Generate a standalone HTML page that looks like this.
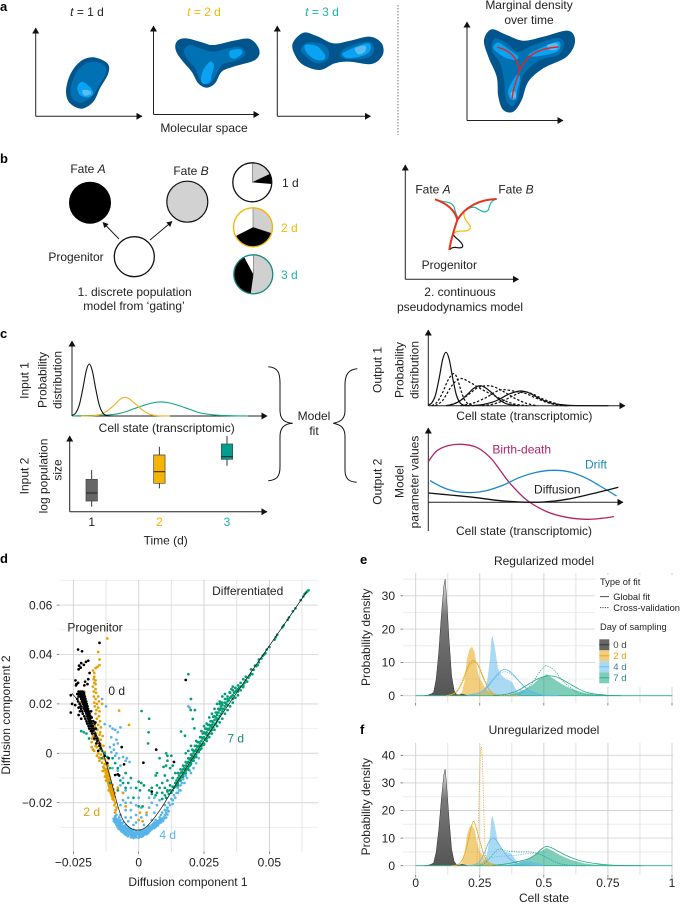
<!DOCTYPE html>
<html lang="en">
<head>
<meta charset="utf-8">
<title>Pseudodynamics figure</title>
<style>
html,body{margin:0;padding:0;background:#fff;width:685px;height:907px;overflow:hidden}
svg{display:block;font-family:"Liberation Sans",sans-serif;font-size:12px;fill:#222}
text{fill:#222}
.mid{text-anchor:middle}
.panel{font-weight:bold;font-size:13px;fill:#000}
.ax{stroke:#222;stroke-width:1;fill:none;marker-end:url(#ah)}
.leg{font-size:9.3px}
</style>
</head>
<body>
<svg id="fig" xmlns="http://www.w3.org/2000/svg" width="685" height="907" viewBox="0 0 685 907">
<defs>
<marker id="ah" markerUnits="userSpaceOnUse" markerWidth="7" markerHeight="7" refX="5.5" refY="3.5" orient="auto"><path d="M0,0 L6,3.5 L0,7 Z" fill="#111"/></marker>
<marker id="ah2" markerUnits="userSpaceOnUse" markerWidth="6" markerHeight="6" refX="5" refY="3" orient="auto"><path d="M0,0 L5.5,3 L0,6 Z" fill="#111"/></marker>
<linearGradient id="g0d" x1="0" y1="0" x2="0" y2="1"><stop offset="0" stop-color="#e8e8e8"/><stop offset=".3" stop-color="#7a7a7a"/><stop offset="1" stop-color="#555"/></linearGradient>
</defs>

<!-- PANEL A -->
<g id="panelA">
<text class="panel" x="0" y="11">a</text>
<text class="mid" x="87" y="16"><tspan font-style="italic">t</tspan> = 1 d</text>
<text class="mid" x="204" y="16" style="fill:#f5b800"><tspan font-style="italic" style="fill:#f5b800">t</tspan> = 2 d</text>
<text class="mid" x="322" y="16" style="fill:#1ab5a5"><tspan font-style="italic" style="fill:#1ab5a5">t</tspan> = 3 d</text>
<text class="mid" x="529" y="9">Marginal density</text>
<text class="mid" x="529" y="24">over time</text>
<text class="mid" x="204" y="132">Molecular space</text>
<path class="ax" d="M35.7,116.3V28"/><path class="ax" d="M35.7,116.3H142"/>
<path class="ax" d="M153.5,114.5V26"/><path class="ax" d="M153.5,114.5H259"/>
<path class="ax" d="M277.3,116.3V26"/><path class="ax" d="M277.3,116.3H370.5"/>
<path class="ax" d="M467,120.5V22"/><path class="ax" d="M467,120.5H563"/>
<path d="M398,5V135" stroke="#888" stroke-width="1.2" stroke-dasharray="1.5 1.5" fill="none"/>
<g id="blobs"></g>
<path d="M497.3,47.3C510,50 518.3,58.3 519.3,71.7M558.3,47C536.7,48.3 523.3,56.7 518.3,75C515,83.3 512.7,91.7 512,99" fill="none" stroke="#e1261c" stroke-width="1.4"/>
</g>

<!-- PANEL B -->
<g id="panelB">
<text class="panel" x="0" y="163">b</text>
<text class="mid" x="88" y="173">Fate <tspan font-style="italic">A</tspan></text>
<text class="mid" x="191" y="175">Fate <tspan font-style="italic">B</tspan></text>
<circle cx="90" cy="202.7" r="21" fill="#000"/>
<circle cx="187.3" cy="201.7" r="20.5" fill="#d2d2d2" stroke="#111" stroke-width="1.2"/>
<circle cx="134.3" cy="256.7" r="20" fill="#fff" stroke="#111" stroke-width="1.3"/>
<path d="M119,239L103,222.5" stroke="#111" stroke-width=".9" fill="none" marker-end="url(#ah2)"/>
<path d="M150,240L172,221.5" stroke="#111" stroke-width=".9" fill="none" marker-end="url(#ah2)"/>
<text class="mid" x="76" y="261">Progenitor</text>
<text class="mid" x="134.7" y="296">1. discrete population</text>
<text class="mid" x="134" y="310">model from ‘gating’</text>
<g id="pies"></g>
<text x="282" y="187">1 d</text>
<text x="281" y="232" style="fill:#f5b800">2 d</text>
<text x="281" y="279" style="fill:#1ab5a5">3 d</text>
<path class="ax" d="M405.3,279.3V165"/><path class="ax" d="M405.3,279.3H518.5"/>
<text class="mid" x="433" y="193.5">Fate <tspan font-style="italic">A</tspan></text>
<text class="mid" x="516" y="193.5">Fate <tspan font-style="italic">B</tspan></text>
<text class="mid" x="449.3" y="269">Progenitor</text>
<text class="mid" x="460" y="296">2. continuous</text>
<text class="mid" x="460" y="311">pseudodynamics model</text>
<path transform="translate(380,150) scale(.3333)" d="M165,147C190,160 210,150 222,170C228,195 232,200 235,205M350,147C335,150 330,160 326,178C315,195 300,180 285,172C270,170 262,178 252,185" fill="none" stroke="#19b5a5" stroke-width="3.6"/>
<path transform="translate(380,150) scale(.3333)" d="M252,185C250,200 255,210 265,220C278,235 270,245 240,243C225,245 222,250 220,255" fill="none" stroke="#f5b800" stroke-width="3.6"/>
<path transform="translate(380,150) scale(.3333)" d="M220,255C225,262 235,268 245,280C255,295 240,295 225,292C215,292 210,297 210,300" fill="none" stroke="#111" stroke-width="3.6"/>
<path transform="translate(380,150) scale(.3333)" d="M165,148C200,160 225,180 232,210M350,147C300,148 255,170 232,210C222,240 212,270 208,300" fill="none" stroke="#e8321c" stroke-width="6"/>
</g>

<!-- PANEL C -->
<g id="panelC">
<text class="panel" x="0" y="338">c</text>
<path class="ax" d="M72,416V341"/><path class="ax" d="M72,416H267"/>
<g id="input1"></g>
<text class="mid" x="166.7" y="432">Cell state (transcriptomic)</text>
<text class="mid" transform="translate(28.3,380.5) rotate(-90)">Input 1</text>
<text class="mid" transform="translate(46.7,380) rotate(-90)">Probability</text>
<text class="mid" transform="translate(61.7,380) rotate(-90)">distribution</text>
<text class="mid" transform="translate(28.3,476) rotate(-90)">Input 2</text>
<text class="mid" transform="translate(47.7,476) rotate(-90)">log population</text>
<text class="mid" transform="translate(61.7,470) rotate(-90)">size</text>
<path class="ax" d="M69.7,511.7V436"/><path class="ax" d="M69.7,511.7H267"/>
<g id="boxes"></g>
<text class="mid" x="165.7" y="544.5">Time (d)</text>
<path d="M268.3,366.7C278.3,367.3 280,373.3 280,383.3L280,410C280,418.3 283.3,422.7 292.7,423.3C283.3,424 280,428.3 280,436.7L280,466.7C280,476.7 276.7,480 268.3,480.7" fill="none" stroke="#111" stroke-width="1"/>
<text class="mid" x="314" y="420">Model</text>
<text class="mid" x="314" y="435">fit</text>
<path d="M357.3,368.7C348.3,369.3 345,375 345,385L345,410C345,418.3 341.7,421.7 333.3,423.3C341.7,425 345,428.3 345,436.7L345,470C345,478.3 348.3,481.7 356.7,482.3" fill="none" stroke="#111" stroke-width="1"/>
<path class="ax" d="M428.3,405.7V330"/><path class="ax" d="M428.3,405.7H625"/>
<g id="output1"></g>
<text class="mid" x="524.3" y="420">Cell state (transcriptomic)</text>
<text class="mid" transform="translate(381.7,370) rotate(-90)">Output 1</text>
<text class="mid" transform="translate(403.3,370) rotate(-90)">Probability</text>
<text class="mid" transform="translate(418.3,370) rotate(-90)">distribution</text>
<text class="mid" transform="translate(381.7,481.7) rotate(-90)">Output 2</text>
<text class="mid" transform="translate(403.3,481.7) rotate(-90)">Model</text>
<text class="mid" transform="translate(418.3,482) rotate(-90)">parameter values</text>
<path class="ax" d="M428.3,531V428"/><path class="ax" d="M428.3,502.3H623"/>
<g id="output2"></g>
<text class="mid" x="521.7" y="453.5" style="fill:#b0246a">Birth-death</text>
<text class="mid" x="596" y="468.5" style="fill:#1b87c8">Drift</text>
<text class="mid" x="557.3" y="493.5">Diffusion</text>
<text class="mid" x="524" y="535">Cell state (transcriptomic)</text>
</g>

<!-- PANEL D -->
<g id="panelD">
<text class="panel" x="0" y="563">d</text>
<g id="gridD"></g>
<g id="pointsD"></g>
<text class="mid" x="247.7" y="595">Differentiated</text>
<text class="mid" x="95" y="631.3">Progenitor</text>
<text class="mid" x="116.7" y="695">0 d</text>
<text class="mid" x="235.7" y="742.7" style="fill:#1a8a74">7 d</text>
<text class="mid" x="91.7" y="816" style="fill:#e69f00">2 d</text>
<text class="mid" x="167.7" y="839" style="fill:#56b4e9">4 d</text>
<text class="mid" x="188" y="886">Diffusion component 1</text>
<text class="mid" transform="translate(10,715) rotate(-90)">Diffusion component 2</text>
</g>

<!-- PANELS E F -->
<g id="panelE">
<text class="panel" x="360" y="564">e</text>
<text class="mid" x="544" y="565">Regularized model</text>
<g id="plotE"></g>
<text class="mid" transform="translate(370,637.3) rotate(-90)">Probability density</text>
<g>
<rect x="595" y="575" width="90" height="112" fill="#fff"/>
<text class="leg" x="600" y="585">Type of fit</text>
<path d="M600,596.7h9" stroke="#222" stroke-width=".8"/>
<text class="leg" x="613.3" y="600">Global fit</text>
<path d="M600,607.7h9" stroke="#222" stroke-width=".8" stroke-dasharray="1.2 1.2"/>
<text class="leg" x="613.3" y="611">Cross-validation</text>
<text class="leg" x="600" y="630">Day of sampling</text>
<rect x="599.3" y="639.3" width="10" height="11" fill="#666"/><path d="M599.3,644.8h10" stroke="#333"/>
<rect x="599.3" y="650.3" width="10" height="11" fill="#f0cd7f"/><path d="M599.3,655.8h10" stroke="#e6a92a"/>
<rect x="599.3" y="661.3" width="10" height="11" fill="#a9d9f4"/><path d="M599.3,666.8h10" stroke="#70bfec"/>
<rect x="599.3" y="672.3" width="10" height="11" fill="#7fcdb8"/><path d="M599.3,677.8h10" stroke="#2fae8c"/>
<text class="leg" x="613.3" y="648" style="fill:#444;font-size:9.6px">0 d</text>
<text class="leg" x="613.3" y="659" style="fill:#e69f00;font-size:9.6px">2 d</text>
<text class="leg" x="613.3" y="670" style="fill:#3f7fa5;font-size:9.6px">4 d</text>
<text class="leg" x="613.3" y="681" style="fill:#2a8a78;font-size:9.6px">7 d</text>
</g>
</g>
<g id="panelF">
<text class="panel" x="360" y="734">f</text>
<text class="mid" x="544" y="734">Unregularized model</text>
<g id="plotF"></g>
<text class="mid" transform="translate(370,806.7) rotate(-90)">Probability density</text>
<text class="mid" x="544" y="902">Cell state</text>
</g>
</svg>

<script>
/* ---------- Panel c data ---------- */
const input0dX=[0,2,4,6,8,9.7,11.4,13.4,15.4,17.4,19.4,22];
const input0dY=[.01,.055,.2,.51,.87,1,.87,.51,.2,.055,.01,0];
const input2dX=[5,12,16,20,24,27,29.8,32.6,36,40,44,48,55];
const input2dY=[0,.005,.03,.105,.22,.32,.36,.32,.22,.105,.03,.005,0];
const input3dX=[0,20,28,34,40,45,49.8,55,60,66,72,80,90,99];
const input3dY=[0,.02,.06,.13,.2,.25,.27,.25,.2,.13,.06,.02,.003,0];
const boxDays=[1,2,3];
const boxLow=[5,23.4,46];
const boxQ1=[10.7,28.4,52.4];
const boxMedian=[18.7,40,55];
const boxQ3=[32.4,56.7,67.7];
const boxHigh=[41.7,65,75.7];
const boxColors=['#666','#f5b400','#009e8e'];
const boxLabelColors=['#222','#f5b400','#1ab5a5'];
const out1Solid1X=[0,2,4,6,8,9.8,11.6,13.6,15.6,17.6,19.6,23];
const out1Solid1Y=[.01,.055,.2,.51,.87,1,.87,.51,.2,.055,.01,0];
const out1Solid2X=[10,14,18,22,25,28.7,32,36,40,44,50];
const out1Solid2Y=[0,.03,.1,.22,.32,.375,.33,.22,.1,.03,0];
const out1Solid3X=[24,30,36,40,45,51,56,62,68,74,80,100];
const out1Solid3Y=[0,.02,.07,.13,.22,.275,.24,.13,.05,.02,.005,0];
const out1Dash1X=[2,5,8,11,14,16,18,20,22,25];
const out1Dash1Y=[0,.07,.25,.48,.6,.52,.3,.12,.04,0];
const out1Dash2X=[4,8,12,15,18.5,24,30,36,42,48,55];
const out1Dash2Y=[0,.1,.32,.45,.51,.42,.3,.2,.1,.03,0];
const out1Dash3X=[10,16,22,27,31,36,42,48,54,60];
const out1Dash3Y=[0,.06,.2,.33,.37,.36,.26,.14,.05,0];
const out1Dash4X=[18,25,32,38,42,48,54,60,66,72,78];
const out1Dash4Y=[0,.05,.15,.27,.3,.27,.23,.14,.06,.01,0];
const out1Dash5X=[30,36,42,48,53,58,64,70,74,78];
const out1Dash5Y=[0,.03,.1,.2,.26,.22,.12,.05,.01,0];
const birthDeathX=[0,4.4,10.5,17.5,25.4,32.5,37.7,43,51.8,62.3,72.8,83.3,91.2,97.7];
const birthDeathY=[40.7,51.3,56.7,58,55,45,32.3,19,2.3,-9.3,-15,-17,-16,-14.3];
const driftX=[.9,7.9,14.9,22.8,30.7,39.5,48.2,57,65.8,74.6,83.3,90.4,99.1];
const driftY=[21.7,14.7,10.7,9.7,11.7,17.3,25,30,32,30.3,24,16.3,6.3];
const diffusionX=[0,11.4,23.7,36,48.2,60.5,72.8,85,100];
const diffusionY=[9.3,7.3,5,2,.3,.3,3,8,15];

/* ---------- Panel d data (values in units of 0.001) ---------- */
const scatterXTicks=[-25,0,25,50];
const scatterXLabels=['\u22120.025','0','0.025','0.05'];
const scatterXMinor=[-12.5,12.5,37.5,62.5];
const scatterYTicks=[60,40,20,0,-20];
const scatterYLabels=['0.06','0.04','0.02','0','\u22120.02'];
const scatterYMinor=[70,50,30,10,-10,-30];
const trajectoryX=[-25.6,-22.4,-18.6,-14.8,-11,-7.1,-4,-.5,3.1,8.2,14.5,23.5,36.2,47.7,64.3];
const trajectoryY=[24.3,20.2,12.8,4,-9.4,-24.3,-29.6,-31.1,-29.6,-22.9,-12.1,2.7,22.5,40,65.4];
const day0Points=[[-23.2,42],[-21.7,41.3],[-15,44.7],[-22,36.5],[-22.8,35.5],[-21,35.8],[-22.2,34.7],[-19.3,37.5],[-20.2,37],[-23,34],[-18.8,32.5],[-19.3,30],[-24.2,29.5],[-23.8,28],[-23.2,28.5],[-24,27.5],[-20.5,29],[-20.8,27.5],[-19.6,28],[-26,23.5],[-25.5,20],[-26,16.5],[-23,25],[-23.5,22],[-24.3,19.5],[-23,18.5],[-22.5,17],[-23,15.5],[-22,14],[-6.5,2.5],[6.7,1.5],[1.8,-3.8],[-5.6,-4.5],[13.5,-3.5],[18,29.7],[-9,-8.8],[-8,-8.5],[-7.5,-9],[5,-15.5],[-12,-4],[-11.5,-2],[-13,-1],
[-22.2,25],[-21.5,25],[-22.5,24.5],[-21,24.5],[-22.8,24],[-21.8,24],[-20.9,24],[-22,23.5],[-21.2,23.5],[-22.4,23],[-21.5,23],[-20.6,23],[-21.8,22.5],[-20.9,22.5],[-22,22],[-21.2,22],[-20.4,22],[-21.4,21.5],[-20.7,21.5],[-21.7,21],[-20.9,21],[-20.1,21],[-21.2,20.5],[-20.4,20.5],[-21.3,20],[-20.6,20],[-19.9,20],[-20.9,19.5],[-20.1,19.5],[-21,19],[-20.3,19],[-19.6,19],[-20.5,18.5],[-19.8,18.5],[-20.8,18],[-20,18],[-19.4,18],[-20.2,17.5],[-19.6,17.5],[-20.4,17],[-19.8,17],[-19.1,17],[-19.9,16.5],[-19.2,16.5],[-20,16],[-19.4,16],[-18.8,16],[-19.7,15],[-19,15],[-18.5,15],[-19.3,14],[-18.6,14],[-19,13],[-18.3,13],[-18.8,12],[-18,12],[-18.3,11],[-17.6,11],[-18,10],[-17.2,10],[-17.5,9],[-17.8,8],[-16.8,8],[-16.5,7],[-17,6],[-16,6],[-15.8,5],[-16.2,4],[-15,4],[-15,3],[-14.5,2],[-15.5,1],
[-23.5,24],[-23,23],[-23.2,21],[-22.6,20],[-22.2,19],[-22,18],[-21.6,17],[-21.4,16],[-20.8,15],[-20.4,14],[-20,13],[-19.7,12],[-19.2,11],[-18.9,10],[-18.3,9],[-16.6,12.5],[-18.2,17],[-18,14.5],[-17.4,13],[-16.9,12],[-16.4,10]];
const day2Points=[[-12,46.5],[-15.5,41],[-15,38],[-15,35.7],[-15.8,35],[-16.5,34.5],[-17.5,33.5],[-17,32.5],[-17,31],[-17.2,30],[-16.5,29.5],[-17,28.5],[-16.5,28],[-17.5,27],[-16.5,26],[-17.2,25],[-16.3,24.5],[-15.5,23],[-17.2,23],[-16.5,22],[-15.2,21],[-17,20.5],[-16,20],[-14,20],[-16.8,19],[-15.5,18.5],[-16.2,17.5],[-15,17],[-16.5,16],[-15.2,15],[-16,14],[-14.8,13],[-16.5,12.5],[-15.5,11.5],[-16.8,11],[-14.5,10.5],[-17,9.5],[-15.8,9.5],[-14.7,8.5],[-16.3,8],[-15,7.5],[-17.5,7],[-13.8,7],[-15.5,6],[-16.8,5.5],[-14.5,5.5],[-18,4.5],[-16,4.2],[-14.5,3.5],[-13.5,3],[-18,2.5],[-16,2.5],[-15,1.5],[-14,1],[-17,1],[-13,.5],[-15.5,0],[-14.5,-.5],[-16,-1],[-13.5,-1.5],[-14.5,-2],[-13,-2.5],[-15,-3],[-12.5,-3.5],[-14,-3.8],[-13,-4.5],[-11.8,-5],[-13.5,-5.5],
[-13.2,-6],[-12.2,-6.3],[-13,-6.8],[-11.8,-7],[-12.6,-7.5],[-11.6,-7.8],[-12.6,-8.2],[-11.5,-8.6],[-12.2,-9],[-11.2,-9.3],[-12.2,-9.8],[-11.2,-10.2],[-11.9,-10.6],[-10.9,-11],[-11.9,-11.4],[-11,-11.7],[-11.6,-12.2],[-10.6,-12.5],[-11.5,-13],[-10.6,-13.3],[-11.2,-13.7],[-10.3,-14],[-11.1,-14.4],[-10.2,-14.8],[-10.8,-15.2],[-10,-15.5],[-10.7,-16],[-9.9,-16.3],[-10.4,-16.8],[-9.7,-17],[-10.2,-17.5],[-9.5,-17.8],
[-10,-18.5],[-9.5,-19],[-9.3,-21],[-8.5,-22],[-9,-20],[-8.8,-23],[-9,-24],[-7.5,17.3],[-3.7,11.5],[-22,25],[-20.8,25],[-22,20.5],[.5,-24],[3,-24],[0,-27],[1.5,-27.5],[-5,-21.5],[-8,-14],[-6,-16],
[-17.8,6],[-16.5,3],[-17.5,1.5],[-15.2,-1.8],[-13.8,-7.2],[-12.9,-9.4],[-12.5,-11],[-10,-12.8],[-9.6,-14.6],[-9.2,-16],[-11.5,-15]];
const day4Points=[[-14,22],[-12.5,19],[-13,11.8],[-11,11],[-10,10],[-9,9.5],[-8,8.5],[-7,10.5],[-10.5,6.5],[-8.5,5.5],[-9.5,3.5],[-8,4],[-11,2.5],[-9.5,1.5],[-10.5,.5],[-8.5,0],[-9,-1],[-7.5,-2],[-6,-1.5],[-4.5,-2],[-5,-3],[-3.5,-3.5],[-7,-5],[-10,-6],[-8,-7],[-5,-8],[-6,-10],[-7,-13],[-8,-14],[19,19],[19.5,18.5],
[-3,-34],[-2,-34.3],[-1,-34],[0,-34.2],[1,-33.8],[-5,-33],[-4,-33.2],[-3,-33],[-2,-33.2],[-1,-33],[0,-33.1],[1,-33],[2,-33],[3,-32.8],[-6,-32],[-5,-32.2],[-4,-32],[-3,-32],[-2,-32],[-1,-32],[0,-32],[1,-32],[2,-32],[3,-32],[4,-31.7],[-7,-31],[-6,-31],[-5,-31],[-4,-31],[-3,-31],[-2,-31],[-1,-31.5],[.5,-31.3],[2,-31],[3,-31],[4,-31],[5,-30.7],[-8,-30],[-7,-30],[-6,-30],[-5,-30],[-4,-30],[3.5,-30],[4.5,-30],[5.5,-30],[6.5,-29.7],[-8.5,-29],[-7.5,-29],[-6.5,-29],[-5,-29],[5,-29],[6,-29],[7,-29],[-9,-28],[-8,-28],[-7,-28],[-6,-28],[6,-28],[7,-28],[8,-28],[-9,-27],[-8,-27],[-7,-27],[6.5,-27],[8,-27],[9,-27],[-9,-26],[-7.5,-26],[8,-26],[9.5,-26],[-8.5,-25],[-7,-25],[8.5,-25],[10,-25],[9,-24],[10.5,-24],
[-4.2,-33.6],[-2.6,-33.7],[-1.4,-33.5],[.3,-33.7],[1.6,-33.5],[-5.4,-32.6],[-4.6,-32.4],[-3.4,-32.6],[-2.4,-32.5],[-1.6,-32.6],[-.4,-32.5],[.6,-32.4],[1.4,-32.6],[2.6,-32.5],[3.6,-32.3],[-6.6,-31.6],[-5.4,-31.5],[-4.6,-31.6],[-3.4,-31.4],[-2.6,-31.5],[1.2,-31.6],[2.4,-31.5],[3.6,-31.4],[4.4,-31.3],[-7.6,-30.6],[-6.4,-30.5],[-5.6,-30.4],[-4.4,-30.6],[-3.5,-30.4],[3,-30.6],[4,-30.4],[5,-30.4],[6,-30.3],[-8.2,-29.5],[-7,-29.6],[-6,-29.4],[-5.1,-29.5],[4,-29.5],[5.4,-29.6],[6.5,-29.3],[7.4,-29.2],[-8.6,-28.5],[-7.4,-28.6],[-6.5,-28.4],[5.6,-28.5],[6.6,-28.5],[7.6,-28.4],[8.5,-28],[-9.5,-27.5],[-8.6,-27.5],[-7.5,-27.4],[7.2,-27.5],[8.4,-27.4],[9.3,-27.4],[-9.6,-26.5],[-8.5,-26.6],[8.6,-26.5],[9.8,-26.4],[10.5,-26],[-9,-25.5],[11,-24.8],[11.5,-23.5],[10,-23],[11,-23],
[10,-21],[11,-22],[11.5,-20],[12,-21],[12.5,-18.5],[13,-19],[13.5,-17],[14,-18],[14.5,-16],[15,-14],[15.5,-15],[16,-13],[16.5,-12],[17,-10.5],[18,-9],[18.5,-10],[19.5,-7],[20,-8],[17.5,-12],[21,-6],[22,-4],[23,-2],[15,-16],[16,-15],[13,-20.5],
[-6,-16],[-5,-15],[-3,-14],[-4,-18],[-6,-19],[-5,-20],[-3,-20],[-7,-21],[-5,-23],[-3,-23],[-1,-21],[0,-18],[1,-22],[-1,-25],[-3,-26],[-5,-26],[1,-26],[3,-25],[4,-22],[5,-20],[6,-24],[7,-21],[5,-27],[-1,-28],[2,-29],[-2,-29],[-4,-27.5],[4,-18],[6,-18],[8,-19],[9,-16],[2,-13]];
const day7Points=[[19,32],[20,22],[1.1,17.1],[4,14],[3.8,8.5],[3.6,4],[16.2,8.8],[17.7,7.1],[21.3,10.1],[20.7,13.9],[19.9,17.5],[21.5,17.5],[-22,9],[-20,8],[-19,6],[-21,8.5],
[10.5,0],[11,-1],[8,-2],[11,-3],[12.5,-1],[13,-5],[10.5,-5],[9.5,-5.5],[12,-6],[7,-8],[6.5,-9],[10,-9],[14,-8],[13,-10],[11,-11],[9,-12],[7,-13],[5,-14],[8,-14],[10,-14],[12,-13],[11,-15],[9,-16],[7,-16],[6.5,-17],[5,-16.5],[4,-15],[2,-13],[1,-12],[0,-11.5],[-1,-14],[.5,-15],[1.5,-21.5],[0,-21.5],[-3,-10],[-5,-8],[-6,-12],[-5,-14],[-7,-11],[-8,-6],[-9,-4],[-10,-2],[-11,-6],[-8,-15],[-2,-18],[-4,-12],[-14,1],[-13,0],[-12,-1.5],[-14,-2],[-11,-12],
[9,-18.5],[10,-17],[10.5,-18],[11,-15.5],[11.5,-16.5],[12,-15],[12.5,-16],[13,-13.5],[13,-15],[13.5,-14],[14,-12],[14,-13.5],[14.5,-11],[14.5,-13],[15,-12],[15,-10],[15.5,-11],[15.5,-9],[16,-10],[16,-8],[16.5,-9.5],[16.5,-7.5],[17,-8.5],[17,-6.5],[17.5,-8],[17.5,-6],[18,-7],[18,-5],[18.5,-6.5],[18.5,-4],[19,-5.5],[19,-3.5],[19.5,-5],[19.5,-2.5],[20,-4],[20,-2],[20.5,-3],[20.5,-1],[21,-2],[21,0],[21.5,-1.5],[21.5,1],[22,-.5],[22,1.5],[22.5,.5],[22.5,2.5],[23,1],[23,3],[23.5,1.5],[23.5,4],[24,3],[24,5],[24.5,3.5],[24.5,6],[25,4],[25,6.5],[25.5,5.5],[25.5,8],[26,6],[26,8.5],[26.5,7],[26.5,9.5],[27,8],[27,10],[27.5,9],[27.5,11],[28,9.5],[28,11.5],[28.5,10.5],[28.5,12.5],[29,11.5],[29,13.5],[29.5,12],[29.5,14.5],[30,13],[30,15.5],[30.5,14],[30.5,16.5],[31,15],[31,17.5],[31.5,16],[31.5,19],[32,17],[32,19.5],[32.5,18],[33,19],[33,20.5],[33.5,20],[34,21],[34,22],[34.5,21.5],[35,22.5],[35.5,23],[36,23.5],[36.5,24.5],[37,25],[37.5,25.5],[38,26],[38.5,26.5],[39,27],
[40,27.5],[40.5,28.5],[41,29.5],[42,30.6],[42.5,31.5],[43,32.2],[44,33.8],[45,35.3],[46,36.8],[47,38.4],[48,40],[48.5,40.5],[50,43],[52,46],[52.5,47],[53,48],[55,51],[55.5,51.8],[57,54],[57.5,55],[59,57.5],[60,58.7],[62,62],[63,63.5],[63.5,64.5],[64,65],[64.5,65.5],[65,66],
[32,23],[30,20],[28,16],[27,14.5],[29,18],[33,24],[35.5,26],[36,27],[24,9],[22,5],[20,3],[18,0],[25,11],[26,12],[31,21],[19,1],[34.8,24.7],[31,20],
[15,-13],[15,-8],[16,-11],[16,-6.5],[17,-9.5],[17,-5],[18,-8],[18,-3.5],[19,-6.5],[19,-2],[20,-4.5],[20,-.5],[21,-3],[21,1],[22,-1.5],[22,3],[23,.5],[23,4.5],[24,2],[24,6.5],[25,3.5],[25,8.5],[26,5],[26,10],[27,6.5],[27,11.5],[28,8],[28,13],[29,9.5],[29,15],[30,11],[30,16.5],[31,12.5],[31,18],[32,14],[32,20.5],[33,16],[33,22],[34,17.5],[34,23],[35,19],[35,24.5],[36,20.5],[36,25.5],[37,22.5],[37,26.5],[38,23.5],[38,27.5],[39,25.5],[39,28.5],[40,26.8],[40,30],[24.5,8],[25.5,10],[26.5,11.5],[27.5,13],[28.5,14.8],[29.5,16.5],[30.5,18],[31.5,20.5],[23.5,6.5],[22.5,4.5],[21.5,3],[20.5,1.5],[26,7.5],[28,10.5],[30,14],[32,18],[34,19.5],[36,22],[38,25],[41,31],[43,34],[44.5,35.5],[46,38],[41.5,29],[43.5,32],[45.5,35.7],[47.5,39.5],[49,42]];

/* ---------- Panels e/f data ---------- */
const densityXTicks=[0,.25,.5,.75,1];
const densityXLabels=['0','0.25','0.5','0.75','1'];
const densityXMinor=[.125,.375,.625,.875];
const eYTicks=[0,10,20,30];
const eYMinor=[5,15,25,35];
const fYTicks=[0,10,20,30,40];
const fYMinor=[5,15,25,35];
const hist0dX=[.03,.05,.06,.07,.08,.09,.1,.11,.115,.12,.13,.14,.15,.16,.17,.18,.19,.2];
const hist0dY=[0,.2,.5,1,5,13,24,33,35,30,17,6,1.5,.3,.2,.5,.3,.1];
const hist2dX=[.13,.15,.17,.18,.19,.2,.21,.22,.23,.24,.25,.26,.27,.28,.3,.32,.35];
const hist2dY=[0,.2,.5,1,4,11,14,14.7,13,8,5,4,2.5,1.5,.8,.3,0];
const hist4dX=[.2,.24,.26,.27,.28,.29,.295,.3,.31,.32,.33,.35,.37,.38,.39,.4,.41,.43,.45,.47,.5,.55];
const hist4dY=[0,.3,1,2,5,11,17,18,14,8.5,6.5,5,4.5,3.5,2,1,2,1.5,1.5,1,.3,0];
const hist7dX=[.35,.4,.43,.46,.48,.5,.51,.53,.55,.57,.6,.63,.66,.7,.72,.75,.8];
const hist7dY=[0,1,2,3.5,5,5.8,6.5,5.5,4.5,3.5,2.3,1.5,.8,.4,.5,.2,.05];
const eGlobal2dX=[.12,.14,.16,.18,.2,.21,.225,.24,.25,.27,.29,.31,.34,.4];
const eGlobal2dY=[.05,.4,1.3,4,8,9.6,10.6,9.6,8,4.2,1.4,.4,.05,0];
const eCross2dX=[.12,.14,.16,.18,.2,.21,.228,.24,.25,.27,.29,.31,.34,.4];
const eCross2dY=[.05,.3,1.1,3.5,7.4,9,10.2,9.7,8.4,4.6,1.6,.5,.08,0];
const eGlobal4dX=[.2,.24,.26,.28,.3,.32,.34,.36,.38,.4,.42,.44,.46,.5,.55];
const eGlobal4dY=[.1,.5,1.2,2.6,4.6,6.5,7.8,7.6,6.4,4.7,3,1.6,.8,.1,0];
const eCross4dX=[.2,.24,.26,.28,.3,.32,.34,.36,.38,.4,.42,.44,.46,.5,.56];
const eCross4dY=[.2,.8,1.6,3,4.7,6.2,7.1,7,6,4.6,3.1,1.9,1,.2,0];
const eGlobal7dX=[.3,.35,.38,.4,.43,.46,.49,.52,.55,.58,.6,.63,.66,.7,.75,.8];
const eGlobal7dY=[.05,.4,1,1.6,3,4.4,5.5,6,5.6,4.5,3.6,2.3,1.2,.5,.1,0];
const eCross7dX=[.34,.38,.4,.42,.44,.46,.48,.5,.51,.53,.55,.57,.6,.63,.66,.7,.75];
const eCross7dY=[0,.2,.5,1.2,2.5,4.4,6.8,8.6,9,8.3,6.8,4.7,2.7,1,.4,.1,0];
const fGlobal2dX=[.14,.16,.18,.2,.21,.225,.24,.25,.27,.29,.32];
const fGlobal2dY=[.05,.3,1.8,7,11.3,16,12.5,9,3,.6,.05];
const fCross2dX=[.22,.235,.24,.245,.25,.255,.26,.265,.27,.275,.285,.3];
const fCross2dY=[0,.4,4,18,35,43,38,22,8,2,.1,0];
const fGlobal4dX=[.2,.23,.25,.27,.285,.3,.315,.33,.35,.37,.4,.44,.5];
const fGlobal4dY=[0,.4,1.5,5,8.5,10,9.2,7,4.2,2.2,.8,.2,0];
const fCross4dX=[.2,.24,.27,.29,.32,.36,.4,.44,.47,.5,.53,.56,.6,.65];
const fCross4dY=[0,.5,1.8,2.8,3.3,3.6,3.9,4.4,4.5,3.6,2,.8,.1,0];
const fGlobal7dX=[.3,.35,.4,.44,.47,.49,.51,.53,.56,.6,.65,.7,.75,.8,.88];
const fGlobal7dY=[.1,.6,1.5,2.5,4.2,6,7,6.5,5,3.2,1.6,.8,.3,.1,0];
const fCross7dX=[.24,.27,.3,.32,.335,.36,.4,.44,.47,.5,.53,.56,.6,.66];
const fCross7dY=[0,1,4,5.8,6,5.3,5,5,4.6,3.4,2,.8,.2,0];

/* ---------- Shared colours ---------- */
const NS='http://www.w3.org/2000/svg';
const C0='#333',C2='#e6a92a',C4='#62b8ea',C7='#1fa982';

function addPath(parent,d,fill,stroke,width,name,dash,opacity){
  const el=document.createElementNS(NS,'path');
  el.setAttribute('d',d);
  el.setAttribute('fill',fill);
  el.setAttribute('stroke',stroke);
  el.setAttribute('stroke-width',width);
  if(dash)el.setAttribute('stroke-dasharray',dash);
  if(opacity)el.setAttribute('opacity',opacity);
  
  
  parent.appendChild(el);
  return el;
}
function addLabel(parent,x,y,str,anchor,color,name){
  const el=document.createElementNS(NS,'text');
  el.setAttribute('x',x);
  el.setAttribute('y',y);
  el.setAttribute('text-anchor',anchor);
  if(color)el.style.fill=color;
  el.textContent=str;
  
  
  parent.appendChild(el);
}
function smooth(pts){
  let d='M'+pts[0][0].toFixed(2)+','+pts[0][1].toFixed(2);
  for(let i=0;i<pts.length-1;i++){
    const a=pts[Math.max(i-1,0)],b=pts[i],c=pts[i+1],e=pts[Math.min(i+2,pts.length-1)];
    d+='C'+(b[0]+(c[0]-a[0])/6).toFixed(2)+','+(b[1]+(c[1]-a[1])/6).toFixed(2)+' '+(c[0]-(e[0]-b[0])/6).toFixed(2)+','+(c[1]-(e[1]-b[1])/6).toFixed(2)+' '+c[0].toFixed(2)+','+c[1].toFixed(2);
  }
  return d;
}
function curve(xs,ys,sx,sy){return smooth(xs.map((v,i)=>[sx(v),sy(ys[i])]));}
function area(xs,ys,sx,sy){
  let d='M'+sx(xs[0]).toFixed(2)+','+sy(0).toFixed(2);
  xs.forEach((v,i)=>{d+='L'+sx(v).toFixed(2)+','+sy(ys[i]).toFixed(2);});
  return d+'L'+sx(xs[xs.length-1]).toFixed(2)+','+sy(0).toFixed(2)+'Z';
}
function blob(raw,ox,fill,name){
  const n=raw.length,P=raw.map(p=>[ox+p[0]/3,p[1]/3]);
  let d='M'+P[0][0].toFixed(1)+','+P[0][1].toFixed(1);
  for(let i=0;i<n;i++){
    const a=P[(i-1+n)%n],b=P[i],c=P[(i+1)%n],e=P[(i+2)%n];
    d+='C'+(b[0]+(c[0]-a[0])/6).toFixed(1)+','+(b[1]+(c[1]-a[1])/6).toFixed(1)+' '+(c[0]-(e[0]-b[0])/6).toFixed(1)+','+(c[1]-(e[1]-b[1])/6).toFixed(1)+' '+c[0].toFixed(1)+','+c[1].toFixed(1);
  }
  addPath(document.getElementById('blobs'),d+'Z',fill,'none',0,name);
}

/* ---------- Panel a blobs ---------- */
const DK='#01558c',MD='#0071b3',BR='#0aa2f2',LT='#5cbcf2';
blob([[280,172],[322,190],[325,220],[300,265],[280,305],[245,326],[210,310],[198,275],[210,225],[240,185]],0,DK,'t1-density-outer');
blob([[280,185],[312,195],[318,220],[295,260],[275,290],[245,308],[220,298],[212,270],[225,225],[250,195]],0,MD,'t1-density-mid');
blob([[250,246],[270,262],[280,282],[262,292],[240,285],[232,265],[238,250]],0,BR,'t1-density-high');
blob([[250,270],[270,272],[272,282],[255,287],[247,278]],0,LT,'t1-density-peak');
blob([[555,115],[600,125],[640,135],[700,122],[750,117],[778,150],[765,180],[700,200],[665,215],[645,250],[620,263],[595,250],[575,215],[545,180],[527,150],[530,125]],0,DK,'t2-density-outer');
blob([[570,135],[600,145],[640,155],[690,143],[725,143],[735,165],[705,183],[665,195],[640,240],[620,253],[600,240],[585,205],[560,175],[552,150]],0,MD,'t2-density-mid');
blob([[695,150],[720,148],[727,160],[705,176],[690,170],[688,157]],0,BR,'t2-density-high-right');
blob([[630,185],[642,195],[635,225],[630,245],[612,252],[603,240],[610,210]],0,BR,'t2-density-high-bottom');
blob([[100,98],[140,108],[190,130],[240,122],[300,110],[335,130],[338,165],[305,192],[240,185],[195,190],[150,210],[100,195],[75,165],[68,130]],270,DK,'t3-density-outer');
blob([[110,128],[150,130],[175,150],[172,180],[140,190],[110,172],[92,150]],270,MD,'t3-density-mid-left');
blob([[105,135],[140,138],[165,165],[160,180],[135,178],[110,158]],270,BR,'t3-density-high-left');
blob([[225,145],[290,125],[312,140],[300,170],[250,178],[212,170]],270,MD,'t3-density-mid-right');
blob([[225,155],[290,130],[303,145],[285,165],[235,175],[218,165]],270,BR,'t3-density-high-right');
blob([[255,145],[285,137],[285,155],[265,163]],270,LT,'t3-density-peak');
blob([[665,88],[710,105],[760,122],[820,110],[895,92],[915,125],[890,170],[820,205],[775,245],[755,300],[730,335],[700,330],[685,290],[680,230],[655,170],[642,120]],270,DK,'marginal-density-outer');
blob([[675,115],[710,130],[745,155],[790,135],[860,115],[882,130],[865,165],[810,180],[760,225],[745,290],[728,318],[708,300],[702,240],[690,190],[665,150]],270,MD,'marginal-density-mid');
blob([[685,128],[720,150],[745,170],[735,180],[700,170],[670,145]],270,BR,'marginal-high-left');
blob([[780,160],[860,125],[870,145],[850,160],[790,170]],270,BR,'marginal-high-right');
blob([[740,225],[750,235],[740,280],[738,298],[722,298],[715,270]],270,BR,'marginal-high-bottom');
blob([[832,135],[860,130],[862,147],[840,150]],270,LT,'marginal-peak-right');
blob([[722,278],[735,275],[738,292],[725,295]],270,LT,'marginal-peak-bottom');

/* ---------- Panel b pies ---------- */
const pieCentersX=[252.3,253,253.3];
const pieCentersY=[182.3,227.3,274.3];
const pieGreyEnd=[65,108,188];
const pieBlackEnd=[95,243,332];
const pieStroke=['#111','#f5b400','#158a80'];
const pieGroup=document.getElementById('pies');
function polar(cx,cy,r,deg){const a=(deg-90)*Math.PI/180;return (cx+r*Math.cos(a)).toFixed(2)+','+(cy+r*Math.sin(a)).toFixed(2);}
pieCentersX.forEach((cx,i)=>{
  const cy=pieCentersY[i],r=19.5;
  const c=document.createElementNS(NS,'circle');
  c.setAttribute('cx',cx);c.setAttribute('cy',cy);c.setAttribute('r',r);c.setAttribute('fill','#fff');
  
  
  pieGroup.appendChild(c);
  const g=pieGreyEnd[i],b=pieBlackEnd[i];
  addPath(pieGroup,'M'+cx+','+cy+'L'+polar(cx,cy,r,0)+'A'+r+','+r+' 0 '+(g>180?1:0)+' 1 '+polar(cx,cy,r,g)+'Z','#d0d0d0','#555',.5,'pie-slice-fate-b');
  addPath(pieGroup,'M'+cx+','+cy+'L'+polar(cx,cy,r,g)+'A'+r+','+r+' 0 '+(b-g>180?1:0)+' 1 '+polar(cx,cy,r,b)+'Z','#000','none',0,'pie-slice-fate-a');
  const ring=document.createElementNS(NS,'circle');
  ring.setAttribute('cx',cx);ring.setAttribute('cy',cy);ring.setAttribute('r',r);ring.setAttribute('fill','none');ring.setAttribute('stroke',pieStroke[i]);ring.setAttribute('stroke-width','1.3');
  
  
  pieGroup.appendChild(ring);
});

/* ---------- Panel c ---------- */
const in1X=u=>72+1.78*u, in1Y=h=>416-52*h;
const g1=document.getElementById('input1');
addPath(g1,curve(input3dX,input3dY,in1X,in1Y),'none','#14a585',1.1,'input-curve-day-3');
addPath(g1,curve(input2dX,input2dY,in1X,in1Y),'none','#efb21f',1.1,'input-curve-day-2');
addPath(g1,curve(input0dX,input0dY,in1X,in1Y),'none','#111',1.1,'input-curve-day-1');
const boxX=d=>91.7+(d-1)*67.65, boxY=v=>511.7-v, boxHalf=5.7;
const gb=document.getElementById('boxes');
boxDays.forEach((d,i)=>{
  const x=boxX(d);
  addPath(gb,'M'+x+','+boxY(boxHigh[i])+'V'+boxY(boxLow[i]),'none','#222',.9,'box-whisker');
  addPath(gb,'M'+(x-boxHalf)+','+boxY(boxQ3[i])+'H'+(x+boxHalf)+'V'+boxY(boxQ1[i])+'H'+(x-boxHalf)+'Z',boxColors[i],'#444',.7,'box-body');
  addPath(gb,'M'+(x-boxHalf)+','+boxY(boxMedian[i])+'H'+(x+boxHalf),'none','#222',1,'box-median');
  addLabel(gb,x,526,String(d),'middle',boxLabelColors[i],'time-tick-label');
});
const out1X=u=>428.3+1.8*u, out1Y=h=>405.7-53.4*h;
const go=document.getElementById('output1');
[[out1Dash1X,out1Dash1Y],[out1Dash2X,out1Dash2Y],[out1Dash3X,out1Dash3Y],[out1Dash4X,out1Dash4Y],[out1Dash5X,out1Dash5Y]].forEach(s=>{
  addPath(go,curve(s[0],s[1],out1X,out1Y),'none','#111',1.25,'output-dashed-curve','2.4 1.8');
});
[[out1Solid1X,out1Solid1Y],[out1Solid2X,out1Solid2Y],[out1Solid3X,out1Solid3Y]].forEach(s=>{
  addPath(go,curve(s[0],s[1],out1X,out1Y),'none','#111',1.2,'output-solid-curve');
});
const out2X=u=>428.3+1.9*u, out2Y=v=>502.3-v;
const g2=document.getElementById('output2');
addPath(g2,curve(birthDeathX,birthDeathY,out2X,out2Y),'none','#b0246a',1.3,'birth-death-curve');
addPath(g2,curve(driftX,driftY,out2X,out2Y),'none','#1b87c8',1.3,'drift-curve');
addPath(g2,curve(diffusionX,diffusionY,out2X,out2Y),'none','#111',1.3,'diffusion-curve');

/* ---------- Panel d ---------- */
const dX=v=>138.7+2.613*v, dY=v=>753.3-2.47*v;
const dGrid=document.getElementById('gridD'), dPts=document.getElementById('pointsD');
const dL=59.3,dR=318.3,dT=580,dB=851.5;
scatterYMinor.forEach(v=>addPath(dGrid,'M'+dL+','+dY(v)+'H'+dR,'none','#efefef',1,'scatter-grid-minor-h'));
scatterXMinor.forEach(v=>addPath(dGrid,'M'+dX(v)+','+dT+'V'+dB,'none','#e4e4e4',1,'scatter-grid-minor-v'));
scatterYTicks.forEach((v,i)=>{
  addPath(dGrid,'M'+dL+','+dY(v)+'H'+dR,'none','#dcdcdc',1.1,'scatter-grid-major-h');
  addPath(dGrid,'M'+(dL-2.5)+','+dY(v)+'H'+dL,'none','#555',.7,'scatter-y-tick');
  addLabel(dGrid,52.3,dY(v)+4.2,scatterYLabels[i],'end',null,'scatter-y-tick-label');
});
scatterXTicks.forEach((v,i)=>{
  addPath(dGrid,'M'+dX(v)+','+dT+'V'+dB,'none','#cfcfcf',.9,'scatter-grid-major-v');
  addPath(dGrid,'M'+dX(v)+','+dB+'V'+(dB+2.5),'none','#555',.7,'scatter-x-tick');
  addLabel(dGrid,dX(v),866.7,scatterXLabels[i],'middle',null,'scatter-x-tick-label');
});
function drawPoints(points,color,name){
  points.forEach(p=>{
    const c=document.createElementNS(NS,'circle');
    c.setAttribute('cx',dX(p[0]).toFixed(2));
    c.setAttribute('cy',dY(p[1]).toFixed(2));
    c.setAttribute('r','1.35');
    c.setAttribute('fill',color);
    
    
    dPts.appendChild(c);
  });
}
drawPoints(day4Points,'#56b4e9','point-day-4');
drawPoints(day2Points,'#e69f00','point-day-2');
drawPoints(day7Points,'#009e73','point-day-7');
drawPoints(day0Points,'#000','point-day-0');
addPath(dPts,curve(trajectoryX,trajectoryY,dX,dY),'none','#111',.7,'scatter-trajectory');

/* ---------- Panels e, f ---------- */
const xD=v=>415.7+256.3*v;
function densityPanel(id,sy,yMajor,yMinor,top,bottom,series,xLabels){
  const g=document.getElementById(id);
  const L=403,R=673;
  yMinor.forEach(v=>{ if(sy(v)>top) addPath(g,'M'+L+','+sy(v)+'H'+R,'none','#efefef',1.2,'density-grid-minor-h'); });
  densityXMinor.forEach(v=>addPath(g,'M'+xD(v)+','+top+'V'+bottom,'none','#e6e6e6',1.1,'density-grid-minor-v'));
  yMajor.forEach(v=>{
    addPath(g,'M'+L+','+sy(v)+'H'+R,'none','#d4d4d4',.9,'density-grid-major-h');
    addPath(g,'M'+(L-2.5)+','+sy(v)+'H'+L,'none','#555',.7,'density-y-tick');
    addLabel(g,395,sy(v)+4.2,String(v),'end',null,'density-y-tick-label');
  });
  densityXTicks.forEach((v,i)=>{
    addPath(g,'M'+xD(v)+','+top+'V'+bottom,'none','#cfcfcf',.9,'density-grid-major-v');
    addPath(g,'M'+xD(v)+','+bottom+'V'+(bottom+2.5),'none','#555',.7,'density-x-tick');
    if(xLabels)addLabel(g,xD(v),887,densityXLabels[i],'middle',null,'density-x-tick-label');
  });
  addPath(g,area(hist7dX,hist7dY,xD,sy),'#009e73','none',0,'hist-day-7',null,'.5');
  addPath(g,area(hist4dX,hist4dY,xD,sy),'#56b4e9','none',0,'hist-day-4',null,'.5');
  addPath(g,area(hist2dX,hist2dY,xD,sy),'#e69f00','none',0,'hist-day-2',null,'.5');
  addPath(g,area(hist0dX,hist0dY,xD,sy),'url(#g0d)','#333',.5,'hist-day-0');
  addPath(g,'M'+xD(0)+','+sy(0)+'H'+xD(1),'none','#34b594',.8,'density-baseline');
  series.forEach(s=>addPath(g,curve(s[0],s[1],xD,sy),'none',s[2],.8,s[3],s[4]));
}
const yE=v=>695.7-3.33*v, yF=v=>865.7-2.76*v;
densityPanel('plotE',yE,eYTicks,eYMinor,573,703,[
  [eCross2dX,eCross2dY,C2,'cv-curve-day-2','1.2 1.2'],[eGlobal2dX,eGlobal2dY,C2,'global-curve-day-2'],
  [eCross4dX,eCross4dY,C4,'cv-curve-day-4','1.2 1.2'],[eGlobal4dX,eGlobal4dY,C4,'global-curve-day-4'],
  [eCross7dX,eCross7dY,C7,'cv-curve-day-7','1.2 1.2'],[eGlobal7dX,eGlobal7dY,C7,'global-curve-day-7']
],false);
densityPanel('plotF',yF,fYTicks,fYMinor,743,875,[
  [fCross2dX,fCross2dY,C2,'cv-curve-day-2','1.2 1.2'],[fGlobal2dX,fGlobal2dY,C2,'global-curve-day-2'],
  [fCross4dX,fCross4dY,C4,'cv-curve-day-4','1.2 1.2'],[fGlobal4dX,fGlobal4dY,C4,'global-curve-day-4'],
  [fCross7dX,fCross7dY,C7,'cv-curve-day-7','1.2 1.2'],[fGlobal7dX,fGlobal7dY,C7,'global-curve-day-7']
],true);
</script>
</body>
</html>
